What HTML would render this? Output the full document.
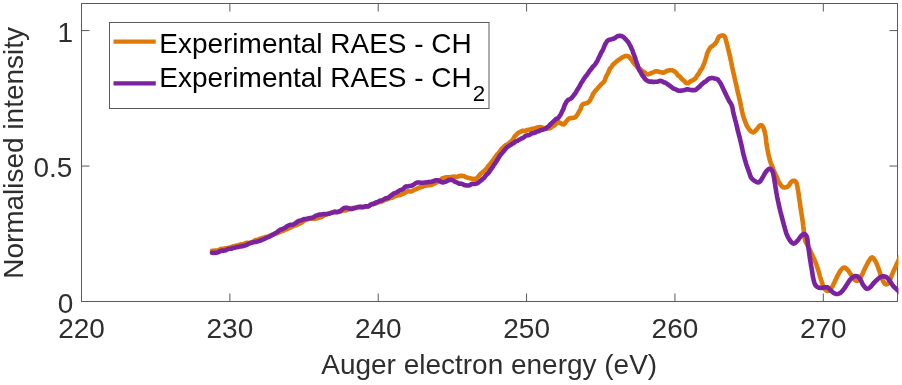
<!DOCTYPE html>
<html><head><meta charset="utf-8"><title>RAES</title>
<style>html,body{margin:0;padding:0;background:#fff}body{width:902px;height:385px;overflow:hidden}</style></head>
<body>
<svg width="902" height="385" viewBox="0 0 902 385" style="display:block;font-family:'Liberation Sans',Arial,Helvetica,sans-serif;font-size:28.3px">
<rect width="902" height="385" fill="#fff"/>
<clipPath id="c"><rect x="76.5" y="3.5" width="822.0" height="298.0"/></clipPath>
<path d="M229.86,301.5 v-8 M229.86,3.5 v8 M378.23,301.5 v-8 M378.23,3.5 v8 M526.59,301.5 v-8 M526.59,3.5 v8 M674.95,301.5 v-8 M674.95,3.5 v8 M823.32,301.5 v-8 M823.32,3.5 v8 M81.5,166.05 h8 M897.5,166.05 h-8 M81.5,30.59 h8 M897.5,30.59 h-8" stroke="#5a5a5a" stroke-width="1" fill="none"/>
<rect x="81.5" y="3.5" width="816.0" height="298.0" fill="none" stroke="#5a5a5a" stroke-width="1"/>
<g clip-path="url(#c)" fill="none" stroke-width="4.6" stroke-linejoin="round" stroke-linecap="round">
<path d="M212.0,250.9 L213.3,250.8 L214.6,250.6 L215.9,250.5 L217.2,250.7 L218.4,250.3 L219.7,249.5 L221.0,249.0 L222.3,248.8 L223.5,248.7 L224.8,248.4 L226.1,248.3 L227.4,248.2 L228.6,247.8 L229.9,247.6 L231.1,247.2 L232.4,246.6 L233.6,246.3 L234.9,246.0 L236.1,245.6 L237.4,245.4 L238.7,245.2 L239.9,244.7 L241.2,244.3 L242.4,244.2 L243.7,244.0 L245.0,243.4 L246.2,242.9 L247.5,242.9 L248.7,243.0 L250.0,242.8 L251.2,242.3 L252.5,241.9 L253.7,241.3 L254.9,240.4 L256.1,239.9 L257.4,239.7 L258.6,239.4 L259.9,238.8 L261.1,238.4 L262.4,238.1 L263.6,237.8 L264.9,237.3 L266.1,236.9 L267.3,236.7 L268.6,236.6 L269.8,236.0 L271.0,235.2 L272.2,234.8 L273.5,234.4 L274.7,233.9 L276.0,233.5 L277.2,233.1 L278.4,232.6 L279.5,232.1 L280.7,231.6 L281.8,231.2 L283.0,230.8 L284.2,230.3 L285.4,229.7 L286.7,229.2 L287.9,228.8 L289.1,228.2 L290.3,227.7 L291.5,227.1 L292.7,226.4 L293.9,225.7 L295.0,225.4 L296.2,225.2 L297.4,224.6 L298.6,224.1 L299.7,223.7 L300.9,223.0 L302.1,222.3 L303.2,221.5 L304.4,220.6 L305.6,220.0 L306.8,219.6 L308.0,219.2 L309.3,218.8 L310.5,218.7 L311.8,218.6 L313.1,218.6 L314.4,218.7 L315.7,218.6 L317.0,218.3 L318.2,218.0 L319.5,217.6 L320.7,217.3 L321.8,216.9 L323.0,216.0 L324.1,215.3 L325.3,214.9 L326.5,214.5 L327.7,214.1 L329.0,213.7 L330.2,213.2 L331.5,212.7 L332.8,212.3 L334.0,211.8 L335.3,211.6 L336.6,211.9 L337.9,212.1 L339.2,211.9 L340.4,211.6 L341.7,210.9 L343.0,210.4 L344.3,210.4 L345.5,210.5 L346.8,210.1 L348.1,209.6 L349.3,209.0 L350.6,208.5 L351.9,208.1 L353.1,208.1 L354.4,208.4 L355.7,208.1 L357.0,207.6 L358.3,207.3 L359.6,207.1 L360.9,207.1 L362.2,207.4 L363.5,207.3 L364.8,206.9 L366.0,206.7 L367.3,206.7 L368.6,206.5 L369.7,205.6 L370.9,204.5 L372.1,203.9 L373.3,203.8 L374.6,203.8 L375.8,203.6 L377.0,203.0 L378.3,202.3 L379.5,201.9 L380.7,201.9 L382.0,201.5 L383.2,200.6 L384.4,200.0 L385.6,199.8 L386.8,199.4 L388.0,198.8 L389.2,198.3 L390.4,198.0 L391.7,197.8 L392.9,197.3 L394.1,196.7 L395.4,196.2 L396.6,195.7 L397.9,195.3 L399.1,195.2 L400.4,194.9 L401.6,194.3 L402.7,193.9 L403.8,193.5 L405.0,192.8 L406.2,191.9 L407.4,191.2 L408.7,191.2 L410.0,191.5 L411.3,191.4 L412.5,190.9 L413.7,190.1 L414.9,189.5 L416.1,189.3 L417.3,188.7 L418.5,187.8 L419.7,187.3 L420.9,187.4 L422.2,187.0 L423.4,186.2 L424.7,185.7 L425.9,185.6 L427.2,185.4 L428.5,185.2 L429.8,185.3 L431.0,185.1 L432.3,184.5 L433.5,183.9 L434.6,183.6 L435.8,183.0 L436.9,182.2 L438.1,181.8 L439.2,181.2 L440.3,180.2 L441.4,179.0 L442.5,178.3 L443.6,178.1 L444.9,177.6 L446.1,177.2 L447.4,177.2 L448.7,177.4 L450.0,177.3 L451.3,177.1 L452.6,176.7 L453.9,176.6 L455.2,176.7 L456.5,176.9 L457.8,176.6 L459.1,176.0 L460.4,175.8 L461.7,175.9 L463.0,175.9 L464.2,176.2 L465.5,176.9 L466.7,177.4 L468.0,177.8 L469.2,178.1 L470.5,178.4 L471.7,178.6 L473.0,178.7 L474.3,178.9 L475.6,179.0 L476.8,178.2 L477.7,177.1 L478.6,176.3 L479.4,175.3 L480.3,174.1 L481.3,173.2 L482.2,172.5 L483.1,171.7 L484.0,171.1 L484.9,170.3 L485.8,169.3 L486.7,168.3 L487.6,167.0 L488.4,165.8 L489.3,165.0 L490.1,164.1 L490.9,163.1 L491.7,161.8 L492.4,160.9 L493.2,160.1 L494.0,158.9 L494.7,157.9 L495.5,157.1 L496.3,155.7 L497.1,154.6 L497.9,153.9 L498.7,153.0 L499.6,151.7 L500.4,150.5 L501.2,149.4 L502.1,148.4 L503.0,147.6 L503.9,146.8 L504.8,145.8 L505.8,145.1 L506.9,144.9 L507.9,144.2 L509.0,143.2 L510.0,142.4 L511.0,141.5 L511.9,140.6 L512.8,139.5 L513.5,138.4 L514.2,137.2 L514.9,136.1 L515.7,135.3 L516.6,134.4 L517.6,133.4 L518.6,132.6 L519.8,132.1 L521.0,131.5 L522.2,130.9 L523.5,130.8 L524.8,131.0 L526.0,130.6 L527.3,129.9 L528.6,129.7 L529.9,129.7 L531.1,129.2 L532.4,128.8 L533.7,128.6 L534.9,128.4 L536.1,128.0 L537.4,127.5 L538.6,127.2 L539.9,127.0 L541.2,127.2 L542.5,127.7 L543.8,128.2 L545.0,128.5 L546.3,128.7 L547.6,128.5 L548.9,128.5 L550.1,128.1 L551.3,127.4 L552.4,126.5 L553.6,125.9 L554.7,125.2 L555.6,124.3 L556.6,123.3 L557.6,122.3 L558.9,122.1 L560.1,122.9 L561.2,123.6 L562.4,124.3 L563.7,124.4 L564.8,123.5 L565.6,122.2 L566.4,121.2 L567.2,120.4 L568.1,119.4 L569.1,118.5 L570.3,118.1 L571.6,118.1 L572.9,117.9 L574.1,117.8 L575.3,117.2 L576.3,116.1 L577.1,115.0 L577.9,113.9 L578.5,112.6 L579.2,111.5 L579.8,110.4 L580.4,109.4 L580.8,108.4 L581.1,107.4 L581.5,106.2 L582.1,105.1 L583.0,104.2 L584.2,103.7 L585.5,103.4 L586.8,103.1 L588.0,102.5 L588.9,101.7 L589.7,100.9 L590.4,99.7 L591.0,98.2 L591.6,97.2 L592.2,96.2 L592.7,94.6 L593.4,93.5 L594.1,92.6 L594.8,91.4 L595.6,90.6 L596.4,89.7 L597.3,88.7 L598.1,87.8 L599.0,86.8 L599.9,85.7 L600.9,84.6 L601.9,83.7 L602.8,82.9 L603.6,82.1 L604.3,81.4 L604.9,80.1 L605.5,78.3 L606.0,76.8 L606.6,75.7 L607.1,74.8 L607.7,73.9 L608.2,72.8 L608.8,71.5 L609.3,70.1 L609.8,68.7 L610.5,67.9 L611.2,67.3 L611.9,66.3 L612.8,64.9 L613.7,63.9 L614.6,63.2 L615.6,62.4 L616.7,61.4 L617.8,60.5 L618.8,59.7 L619.9,59.1 L621.0,58.3 L622.1,57.6 L623.2,57.0 L624.3,56.4 L625.5,56.0 L626.8,55.9 L628.0,56.2 L629.0,56.8 L629.8,57.8 L630.7,58.9 L631.5,59.8 L632.3,60.8 L633.0,62.0 L633.8,63.0 L634.6,64.1 L635.5,65.0 L636.4,66.0 L637.4,67.1 L638.4,67.8 L639.4,68.6 L640.4,69.4 L641.4,70.4 L642.5,71.1 L643.4,71.6 L644.4,72.2 L645.4,73.2 L646.4,74.0 L647.7,74.4 L648.9,74.1 L650.1,73.6 L651.3,73.0 L652.4,72.6 L653.6,72.1 L654.7,71.6 L656.0,71.2 L657.2,71.2 L658.5,71.6 L659.7,72.1 L661.0,72.3 L662.3,72.6 L663.6,72.7 L664.8,72.2 L666.0,71.4 L667.3,70.8 L668.5,70.5 L669.8,70.3 L671.1,70.2 L672.3,70.3 L673.5,70.8 L674.5,71.4 L675.5,72.2 L676.5,73.2 L677.4,74.6 L678.3,75.6 L679.2,76.0 L680.1,76.8 L681.0,78.1 L681.9,79.0 L682.8,79.8 L683.7,80.5 L684.7,81.5 L685.7,82.7 L686.9,83.3 L688.2,83.2 L689.2,82.3 L690.3,81.4 L691.5,80.8 L692.7,80.3 L693.9,79.6 L694.8,78.9 L695.7,78.2 L696.4,76.9 L697.1,75.5 L697.8,74.7 L698.5,74.0 L699.2,72.8 L699.9,71.3 L700.6,70.0 L701.3,69.3 L702.0,68.5 L702.6,67.1 L703.2,65.7 L703.7,64.5 L704.2,63.3 L704.7,62.0 L705.1,60.9 L705.5,59.6 L705.9,58.2 L706.2,57.2 L706.6,55.8 L706.9,54.2 L707.3,53.2 L707.8,52.2 L708.3,51.0 L708.8,50.0 L709.5,48.8 L710.4,47.5 L711.3,46.7 L712.3,46.1 L713.3,45.3 L714.3,44.5 L715.3,43.5 L716.1,42.4 L716.7,41.3 L717.2,40.3 L717.7,39.2 L718.2,37.8 L719.1,36.6 L720.2,36.0 L721.4,35.6 L722.7,35.4 L723.9,35.7 L724.8,36.7 L725.3,37.9 L725.7,39.2 L726.0,40.5 L726.3,41.7 L726.6,42.8 L727.0,44.1 L727.3,45.3 L727.7,46.7 L728.0,48.2 L728.3,49.5 L728.6,50.6 L728.9,51.9 L729.2,53.2 L729.5,54.4 L729.8,55.7 L730.1,56.9 L730.4,58.1 L730.6,59.4 L730.9,60.7 L731.2,62.0 L731.5,63.4 L731.7,64.6 L732.0,65.8 L732.2,67.2 L732.5,68.5 L732.7,69.6 L733.0,70.9 L733.3,72.1 L733.6,73.4 L733.9,74.7 L734.2,76.0 L734.5,77.2 L734.7,78.5 L735.0,79.8 L735.3,81.0 L735.6,82.2 L735.9,83.5 L736.2,84.7 L736.5,86.0 L736.8,87.3 L737.1,88.7 L737.3,90.0 L737.6,91.2 L737.9,92.5 L738.2,93.7 L738.5,95.0 L738.8,96.2 L739.1,97.5 L739.4,98.8 L739.7,100.1 L740.0,101.3 L740.3,102.5 L740.5,103.8 L740.8,105.1 L741.0,106.4 L741.3,107.7 L741.5,109.0 L741.8,110.3 L742.1,111.5 L742.4,112.8 L742.7,114.0 L743.0,115.3 L743.4,116.5 L743.8,117.8 L744.2,119.0 L744.6,120.2 L745.1,121.4 L745.5,122.7 L746.0,123.9 L746.6,125.1 L747.1,126.2 L747.8,127.4 L748.5,128.4 L749.3,129.5 L750.1,130.5 L751.0,131.4 L752.1,132.1 L753.3,132.4 L754.5,131.8 L755.4,130.8 L756.2,129.8 L757.1,128.9 L757.9,127.9 L758.7,126.8 L759.5,125.8 L760.6,125.1 L761.8,125.5 L762.7,126.4 L763.4,127.5 L763.8,128.7 L764.2,130.0 L764.5,131.2 L764.9,132.5 L765.1,133.8 L765.4,135.0 L765.6,136.3 L765.8,137.6 L765.9,138.9 L766.1,140.2 L766.2,141.5 L766.4,142.8 L766.6,144.1 L766.8,145.3 L767.0,146.6 L767.2,147.9 L767.4,149.2 L767.7,150.5 L767.9,151.7 L768.1,153.0 L768.4,154.3 L768.7,155.6 L769.0,156.8 L769.3,158.1 L769.6,159.3 L770.0,160.6 L770.4,161.8 L770.8,163.1 L771.3,164.3 L771.7,165.5 L772.2,166.7 L772.7,167.9 L773.2,169.1 L773.7,170.3 L774.2,171.5 L774.8,172.7 L775.3,173.9 L775.8,175.0 L776.4,176.2 L776.9,177.4 L777.4,178.6 L777.9,179.8 L778.4,181.0 L779.0,182.2 L779.6,183.3 L780.3,184.4 L781.1,185.5 L782.0,186.4 L783.0,187.2 L784.3,187.5 L785.6,187.4 L786.8,187.0 L787.9,186.4 L788.9,185.5 L789.6,184.4 L790.2,183.3 L791.0,182.2 L791.9,181.4 L793.1,180.8 L794.4,180.8 L795.5,181.3 L796.2,182.4 L796.7,183.6 L797.0,184.9 L797.3,186.2 L797.5,187.4 L797.7,188.7 L798.0,190.0 L798.2,191.3 L798.4,192.6 L798.6,193.9 L798.8,195.1 L798.9,196.4 L799.1,197.7 L799.3,199.0 L799.5,200.3 L799.7,201.6 L799.9,202.9 L800.1,204.1 L800.2,205.4 L800.4,206.7 L800.6,208.0 L800.8,209.3 L801.0,210.6 L801.2,211.9 L801.4,213.1 L801.6,214.4 L801.8,215.7 L802.0,217.0 L802.2,218.3 L802.4,219.6 L802.6,220.9 L802.8,222.1 L802.9,223.4 L803.1,224.7 L803.2,226.0 L803.4,227.3 L803.5,228.6 L803.7,229.9 L803.8,231.2 L804.0,232.5 L804.1,233.8 L804.2,235.1 L804.3,236.4 L804.5,237.6 L804.8,238.9 L805.1,240.2 L805.5,241.4 L806.0,242.6 L806.7,243.7 L807.3,244.8 L808.0,246.0 L808.6,247.1 L809.1,248.3 L809.7,249.5 L810.2,250.7 L810.8,251.8 L811.3,253.0 L811.9,254.2 L812.4,255.4 L813.0,256.5 L813.5,257.7 L814.1,258.9 L814.6,260.1 L815.1,261.3 L815.6,262.5 L816.0,263.7 L816.5,264.9 L816.9,266.2 L817.3,267.4 L817.7,268.6 L818.1,269.9 L818.5,271.1 L818.9,272.4 L819.2,273.6 L819.6,274.9 L819.9,276.1 L820.3,277.4 L820.7,278.6 L821.1,279.9 L821.5,281.1 L821.9,282.3 L822.3,283.6 L822.7,284.8 L823.2,286.0 L823.8,287.2 L824.4,288.3 L825.2,289.4 L826.0,290.3 L827.1,290.9 L828.4,290.8 L829.5,290.1 L830.4,289.2 L831.3,288.2 L832.0,287.1 L832.7,286.0 L833.2,284.8 L833.8,283.7 L834.4,282.5 L834.9,281.3 L835.5,280.1 L836.0,279.0 L836.6,277.8 L837.1,276.6 L837.7,275.4 L838.3,274.3 L838.9,273.2 L839.6,272.0 L840.3,270.9 L841.1,269.9 L841.9,268.9 L842.9,268.0 L844.0,267.5 L845.3,267.8 L846.3,268.6 L847.2,269.5 L848.1,270.4 L848.9,271.5 L849.6,272.6 L850.3,273.7 L851.0,274.8 L851.8,275.8 L852.5,276.9 L853.2,278.0 L854.0,279.0 L854.9,280.0 L855.9,280.8 L857.2,280.9 L858.3,280.2 L859.3,279.4 L860.1,278.3 L860.7,277.2 L861.4,276.1 L861.9,274.9 L862.5,273.8 L863.1,272.6 L863.6,271.4 L864.1,270.2 L864.7,269.0 L865.2,267.8 L865.8,266.7 L866.4,265.5 L867.0,264.4 L867.6,263.2 L868.2,262.1 L868.9,261.0 L869.6,259.9 L870.3,258.8 L871.1,257.8 L872.2,257.3 L873.3,258.1 L874.1,259.2 L874.8,260.2 L875.5,261.3 L876.1,262.5 L876.6,263.7 L877.2,264.9 L877.6,266.1 L878.1,267.3 L878.5,268.5 L878.9,269.7 L879.4,271.0 L879.8,272.2 L880.2,273.4 L880.6,274.7 L881.0,275.9 L881.5,277.1 L881.9,278.3 L882.4,279.6 L882.9,280.7 L883.5,281.9 L884.2,283.0 L885.0,284.0 L886.2,284.5 L887.4,284.0 L888.3,283.1 L889.0,282.0 L889.5,280.8 L890.0,279.6 L890.5,278.4 L891.0,277.2 L891.5,276.0 L892.0,274.8 L892.5,273.6 L893.0,272.4 L893.5,271.2 L894.0,270.0 L894.6,268.8 L895.1,267.6 L895.7,266.5 L896.2,265.3 L896.8,264.1 L897.3,262.9 L897.9,261.8 L898.4,260.6 L898.9,259.4 L899.5,258.2 L900.0,257.0 L900.0,257.0" stroke="#DF7A06"/>
<path d="M212.0,252.8 L213.3,252.9 L214.6,252.8 L215.9,252.8 L217.1,252.6 L218.4,252.1 L219.7,251.4 L220.9,250.9 L222.2,250.6 L223.4,250.6 L224.7,250.5 L225.9,250.2 L227.2,249.5 L228.5,248.9 L229.7,248.8 L231.0,248.8 L232.2,248.3 L233.5,248.0 L234.8,247.8 L236.0,247.2 L237.3,247.1 L238.6,247.0 L239.8,246.5 L241.1,246.4 L242.4,246.3 L243.7,245.7 L244.9,245.4 L246.1,245.2 L247.3,244.7 L248.5,243.9 L249.7,243.3 L251.0,242.9 L252.2,242.6 L253.4,242.2 L254.7,242.0 L256.0,241.9 L257.2,241.6 L258.5,241.1 L259.8,240.7 L261.0,240.3 L262.2,239.8 L263.4,239.4 L264.6,238.9 L265.7,238.2 L266.9,237.7 L268.1,237.2 L269.2,236.7 L270.4,236.1 L271.5,235.4 L272.7,234.8 L273.8,234.1 L274.9,233.4 L276.0,232.8 L277.1,232.1 L278.3,231.2 L279.4,230.2 L280.5,229.6 L281.6,229.4 L282.7,228.8 L283.8,228.4 L285.0,227.9 L286.1,227.0 L287.3,226.0 L288.5,225.5 L289.7,225.1 L290.9,224.8 L292.1,224.7 L293.3,224.4 L294.5,223.7 L295.7,223.0 L296.8,222.3 L298.0,221.3 L299.1,220.7 L300.4,220.5 L301.6,220.2 L302.8,219.7 L304.1,219.1 L305.4,218.9 L306.7,218.7 L307.9,218.4 L309.2,218.2 L310.5,218.0 L311.7,217.8 L312.9,217.5 L314.0,216.9 L315.2,216.1 L316.3,215.5 L317.5,215.2 L318.7,214.8 L320.0,214.5 L321.3,214.5 L322.6,214.3 L323.9,214.1 L325.2,214.2 L326.5,213.9 L327.7,213.7 L329.0,213.7 L330.3,213.3 L331.5,212.7 L332.8,212.4 L334.1,212.0 L335.4,212.1 L336.7,212.3 L337.9,211.9 L339.1,211.4 L340.2,210.9 L341.3,210.3 L342.4,209.3 L343.6,208.3 L344.8,207.9 L346.1,207.9 L347.4,207.9 L348.7,208.3 L349.9,208.8 L351.2,209.1 L352.5,208.9 L353.8,208.1 L355.1,207.7 L356.3,207.5 L357.6,207.1 L358.9,206.9 L360.2,206.9 L361.5,206.8 L362.8,207.0 L364.1,206.8 L365.3,206.3 L366.6,206.2 L367.9,206.4 L369.1,205.9 L370.3,204.9 L371.5,204.3 L372.7,204.3 L373.9,203.8 L375.1,202.8 L376.2,202.3 L377.4,202.1 L378.6,201.5 L379.8,200.8 L381.0,200.5 L382.3,200.2 L383.5,199.6 L384.7,198.8 L386.0,198.2 L387.2,198.1 L388.4,197.7 L389.5,196.7 L390.6,195.8 L391.6,195.1 L392.6,194.3 L393.7,193.5 L394.8,192.9 L395.9,192.6 L397.1,192.2 L398.2,191.4 L399.4,190.5 L400.5,190.0 L401.6,189.7 L402.7,189.3 L403.7,188.5 L404.8,187.2 L406.0,186.4 L407.2,186.5 L408.4,186.3 L409.7,185.9 L411.0,185.7 L412.2,185.4 L413.4,184.8 L414.6,184.1 L415.7,183.1 L417.0,182.6 L418.3,182.4 L419.6,182.6 L420.9,182.8 L422.2,182.8 L423.5,182.7 L424.8,182.5 L426.0,182.4 L427.3,182.2 L428.6,182.0 L429.9,181.9 L431.2,181.7 L432.4,181.4 L433.7,181.1 L434.9,180.5 L436.2,180.2 L437.5,180.3 L438.8,180.5 L440.0,181.1 L441.2,182.0 L442.4,182.4 L443.7,182.2 L445.0,181.9 L446.2,181.5 L447.3,180.9 L448.4,180.3 L449.6,180.0 L450.9,179.9 L452.1,180.0 L453.3,180.5 L454.4,181.4 L455.5,181.9 L456.6,182.3 L457.9,183.0 L459.1,183.6 L460.4,183.6 L461.7,183.7 L462.9,184.3 L464.1,185.0 L465.3,185.3 L466.5,185.4 L467.8,185.6 L469.1,185.4 L470.4,184.8 L471.6,184.1 L472.8,183.8 L474.1,183.9 L475.4,183.9 L476.7,183.5 L477.9,182.9 L479.1,182.0 L480.1,181.1 L481.1,180.4 L482.1,179.6 L483.0,178.7 L483.9,178.0 L484.8,177.0 L485.6,175.8 L486.5,174.7 L487.3,174.1 L488.1,173.3 L489.0,172.1 L489.8,170.9 L490.5,169.9 L491.3,168.8 L492.1,167.9 L492.8,166.8 L493.5,165.5 L494.2,164.5 L495.0,163.5 L495.7,162.4 L496.3,161.4 L497.0,160.4 L497.7,159.4 L498.4,158.2 L499.2,156.8 L499.9,155.7 L500.7,154.8 L501.5,153.9 L502.3,152.9 L503.1,151.9 L504.0,150.9 L504.9,149.7 L505.7,148.7 L506.7,147.7 L507.6,146.7 L508.6,146.2 L509.6,145.6 L510.7,145.0 L511.8,144.1 L512.9,143.5 L514.1,142.9 L515.2,141.9 L516.4,141.1 L517.5,140.8 L518.6,140.1 L519.7,139.5 L520.8,138.9 L521.9,138.3 L523.1,137.8 L524.2,137.1 L525.4,136.1 L526.6,135.4 L527.8,135.2 L529.0,135.1 L530.2,134.4 L531.4,133.6 L532.6,133.3 L533.8,133.1 L535.0,132.5 L536.3,132.0 L537.5,131.5 L538.7,131.3 L539.9,130.6 L541.1,130.0 L542.3,129.8 L543.6,129.5 L544.8,129.0 L546.0,128.3 L547.1,127.3 L548.2,126.5 L549.2,125.6 L550.1,124.7 L550.9,123.7 L551.8,123.0 L552.7,122.3 L553.6,121.3 L554.6,120.3 L555.6,119.3 L556.6,118.7 L557.6,118.3 L558.6,117.6 L559.5,116.2 L560.3,115.1 L560.9,114.2 L561.5,112.8 L562.0,111.6 L562.5,110.7 L563.0,109.8 L563.5,108.6 L564.0,107.1 L564.4,105.8 L564.9,104.8 L565.4,103.8 L566.0,102.7 L566.8,101.3 L567.9,100.1 L569.0,99.5 L570.1,99.0 L571.1,98.4 L572.0,97.5 L572.9,96.4 L573.7,95.3 L574.5,94.4 L575.3,93.3 L576.0,92.1 L576.7,90.8 L577.4,89.6 L578.0,88.7 L578.6,87.9 L579.3,86.7 L579.9,85.7 L580.5,84.3 L581.2,83.0 L581.9,82.0 L582.6,80.9 L583.3,79.8 L584.0,78.7 L584.8,77.6 L585.5,76.5 L586.2,75.6 L587.0,74.8 L587.7,73.7 L588.5,72.6 L589.2,71.5 L590.0,70.3 L590.8,69.5 L591.6,68.5 L592.4,67.2 L593.4,66.2 L594.3,65.4 L595.1,64.4 L595.9,63.2 L596.5,62.2 L597.1,61.4 L597.7,60.1 L598.3,58.7 L598.8,57.6 L599.4,56.5 L600.0,55.4 L600.5,54.1 L601.1,52.8 L601.7,51.9 L602.3,51.0 L602.8,49.9 L603.4,48.6 L604.0,47.0 L604.6,45.6 L605.1,44.5 L605.7,43.5 L606.3,42.4 L607.0,41.3 L608.0,40.4 L609.2,39.8 L610.5,39.5 L611.7,39.2 L613.0,38.8 L614.1,38.5 L615.2,37.9 L616.3,36.9 L617.4,36.3 L618.6,36.0 L619.9,35.7 L621.2,35.9 L622.4,36.5 L623.5,37.1 L624.5,38.0 L625.4,39.0 L626.3,39.9 L627.2,41.0 L628.0,41.9 L628.7,42.8 L629.3,44.0 L629.9,45.1 L630.5,46.2 L631.0,47.4 L631.6,48.8 L632.1,49.8 L632.6,50.8 L633.0,52.2 L633.5,53.7 L634.0,54.9 L634.4,55.9 L634.8,56.9 L635.3,58.3 L635.7,59.7 L636.1,60.8 L636.4,62.3 L636.8,63.5 L637.3,64.3 L637.6,65.5 L638.1,67.0 L638.6,68.5 L639.1,69.9 L639.7,70.9 L640.3,71.5 L640.9,72.5 L641.5,73.8 L642.2,75.1 L642.9,76.1 L643.7,77.0 L644.5,78.3 L645.5,79.5 L646.6,80.3 L647.7,80.9 L648.9,81.5 L650.1,81.6 L651.4,81.6 L652.7,81.9 L654.0,81.9 L655.3,81.7 L656.6,81.8 L657.8,81.7 L659.1,81.2 L660.3,80.8 L661.6,81.0 L662.8,81.8 L664.0,82.4 L665.0,82.6 L666.1,83.2 L667.2,84.0 L668.3,84.7 L669.4,85.5 L670.5,86.2 L671.6,87.1 L672.7,88.1 L673.8,88.7 L674.9,88.9 L676.0,89.5 L677.2,90.2 L678.5,90.6 L679.7,90.7 L681.0,90.6 L682.3,90.5 L683.6,90.3 L684.7,90.1 L685.9,89.6 L687.2,89.2 L688.5,89.4 L689.7,89.8 L691.0,90.0 L692.3,90.1 L693.5,90.1 L694.8,90.1 L696.0,89.6 L697.1,88.7 L698.2,87.7 L699.3,86.9 L700.2,85.9 L701.2,84.9 L702.1,84.0 L703.1,83.1 L704.0,82.4 L705.0,81.9 L705.9,81.2 L707.0,80.2 L708.1,79.2 L709.3,78.5 L710.6,78.2 L711.9,77.9 L713.2,78.1 L714.5,78.5 L715.7,78.7 L716.9,78.9 L718.0,79.7 L718.8,80.9 L719.6,81.9 L720.3,82.8 L720.9,83.9 L721.5,85.1 L722.1,86.4 L722.7,87.6 L723.2,88.8 L723.8,89.9 L724.3,91.0 L724.9,92.3 L725.4,93.5 L726.0,94.5 L726.5,95.7 L727.1,96.9 L727.7,98.1 L728.3,99.3 L728.9,100.4 L729.5,101.6 L730.2,102.6 L730.9,103.7 L731.5,104.8 L732.0,106.0 L732.3,107.3 L732.6,108.6 L732.8,109.8 L733.0,111.0 L733.3,112.3 L733.6,113.7 L733.9,115.1 L734.2,116.3 L734.6,117.6 L734.9,118.8 L735.2,120.1 L735.6,121.2 L735.9,122.4 L736.2,123.7 L736.5,125.0 L736.8,126.2 L737.1,127.6 L737.4,128.9 L737.7,130.1 L738.0,131.4 L738.4,132.7 L738.7,133.9 L739.0,135.1 L739.3,136.4 L739.7,137.6 L740.0,138.9 L740.3,140.1 L740.6,141.4 L740.9,142.6 L741.2,143.9 L741.5,145.2 L741.8,146.5 L742.0,147.8 L742.3,149.1 L742.6,150.3 L742.8,151.6 L743.1,152.8 L743.4,154.1 L743.7,155.4 L744.1,156.6 L744.4,157.9 L744.8,159.1 L745.1,160.4 L745.5,161.6 L745.9,162.9 L746.2,164.1 L746.6,165.4 L747.1,166.6 L747.5,167.8 L747.9,169.0 L748.4,170.3 L748.8,171.5 L749.3,172.7 L749.7,173.9 L750.1,175.2 L750.5,176.4 L751.1,177.6 L751.9,178.6 L752.8,179.5 L753.8,180.3 L754.9,181.1 L756.0,181.7 L757.2,182.3 L758.5,182.4 L759.6,181.9 L760.5,180.9 L761.2,179.8 L761.9,178.7 L762.6,177.6 L763.2,176.5 L763.8,175.4 L764.4,174.2 L765.1,173.1 L765.8,172.0 L766.6,171.0 L767.5,170.0 L768.5,169.2 L769.7,168.7 L770.9,169.1 L771.7,170.1 L772.4,171.2 L772.9,172.4 L773.2,173.6 L773.5,174.9 L773.7,176.2 L774.0,177.5 L774.2,178.7 L774.4,180.0 L774.6,181.3 L774.8,182.6 L775.0,183.9 L775.2,185.2 L775.4,186.5 L775.6,187.7 L775.8,189.0 L776.0,190.3 L776.2,191.6 L776.4,192.9 L776.7,194.2 L776.9,195.4 L777.1,196.7 L777.4,198.0 L777.7,199.3 L777.9,200.5 L778.2,201.8 L778.5,203.1 L778.7,204.3 L779.0,205.6 L779.3,206.9 L779.6,208.1 L779.9,209.4 L780.2,210.7 L780.5,211.9 L780.9,213.2 L781.2,214.5 L781.5,215.7 L781.8,217.0 L782.1,218.2 L782.5,219.5 L782.8,220.7 L783.1,222.0 L783.5,223.3 L783.8,224.5 L784.1,225.8 L784.5,227.0 L784.8,228.3 L785.2,229.5 L785.6,230.8 L785.9,232.0 L786.3,233.3 L786.8,234.5 L787.3,235.7 L787.8,236.9 L788.4,238.0 L789.1,239.1 L789.8,240.2 L790.6,241.2 L791.4,242.2 L792.4,243.1 L793.6,243.6 L794.8,243.3 L795.8,242.5 L796.7,241.5 L797.6,240.6 L798.4,239.6 L799.2,238.5 L799.9,237.5 L800.7,236.4 L801.6,235.5 L802.6,234.6 L803.7,234.0 L805.0,234.3 L805.9,235.2 L806.6,236.3 L807.0,237.5 L807.3,238.8 L807.5,240.0 L807.6,241.3 L807.7,242.6 L807.9,243.9 L808.1,245.2 L808.2,246.5 L808.4,247.8 L808.6,249.1 L808.8,250.4 L809.0,251.7 L809.1,252.9 L809.3,254.2 L809.5,255.5 L809.7,256.8 L809.9,258.1 L810.1,259.4 L810.3,260.7 L810.5,261.9 L810.7,263.2 L810.9,264.5 L811.1,265.8 L811.3,267.1 L811.6,268.4 L811.8,269.6 L812.0,270.9 L812.2,272.2 L812.4,273.5 L812.6,274.8 L812.8,276.1 L813.0,277.3 L813.3,278.6 L813.6,279.9 L813.9,281.1 L814.2,282.4 L814.7,283.6 L815.2,284.8 L816.0,285.8 L816.9,286.7 L818.1,287.3 L819.3,287.8 L820.6,288.0 L821.8,287.9 L823.1,287.6 L824.4,287.5 L825.7,287.2 L827.0,287.2 L828.1,287.7 L829.1,288.6 L829.9,289.6 L830.9,290.5 L831.8,291.4 L832.8,292.3 L833.8,293.0 L835.0,293.6 L836.2,294.0 L837.5,294.0 L838.8,293.6 L840.0,293.1 L841.0,292.3 L842.0,291.4 L842.8,290.5 L843.6,289.4 L844.4,288.4 L845.1,287.3 L845.9,286.2 L846.5,285.1 L847.2,284.0 L847.9,282.9 L848.6,281.8 L849.3,280.7 L850.1,279.7 L851.0,278.8 L852.0,277.9 L853.0,277.1 L854.1,276.4 L855.3,276.0 L856.6,276.2 L857.8,276.7 L858.8,277.6 L859.7,278.5 L860.4,279.6 L861.0,280.7 L861.6,281.9 L862.1,283.1 L862.7,284.2 L863.4,285.3 L864.2,286.4 L865.0,287.4 L865.9,288.3 L867.1,288.8 L868.3,288.6 L869.4,287.9 L870.4,287.0 L871.3,286.1 L872.1,285.0 L872.9,284.0 L873.7,283.0 L874.6,282.1 L875.5,281.2 L876.5,280.3 L877.4,279.4 L878.4,278.5 L879.4,277.7 L880.5,277.0 L881.7,276.5 L883.0,276.3 L884.3,276.4 L885.5,276.8 L886.7,277.4 L887.6,278.3 L888.5,279.2 L889.3,280.2 L890.1,281.3 L890.8,282.4 L891.4,283.5 L892.1,284.6 L892.9,285.6 L893.8,286.6 L894.7,287.5 L895.7,288.4 L896.6,289.3 L897.6,290.2 L898.5,291.1 L899.5,292.0 L900.0,292.5" stroke="#7B22A0"/>
</g>
<g fill="#2e2e2e" text-anchor="middle" font-size="27.4px">
<text transform="translate(81.50,338.4) scale(1.022,1)">220</text>
<text transform="translate(229.86,338.4) scale(1.022,1)">230</text>
<text transform="translate(378.23,338.4) scale(1.022,1)">240</text>
<text transform="translate(526.59,338.4) scale(1.022,1)">250</text>
<text transform="translate(674.95,338.4) scale(1.022,1)">260</text>
<text transform="translate(823.32,338.4) scale(1.022,1)">270</text>
</g>
<g fill="#2e2e2e" text-anchor="end" font-size="27.4px">
<text transform="translate(73.3,312.80) scale(1.022,1)">0</text>
<text transform="translate(72.3,177.35) scale(1.022,1)">0.5</text>
<text transform="translate(73.1,41.89) scale(1.022,1)">1</text>
</g>
<text transform="translate(489.2,374.3) scale(0.989,1)" fill="#2e2e2e" text-anchor="middle">Auger electron energy (eV)</text>
<text transform="translate(22.9,152.9) rotate(-90) scale(0.989,1)" fill="#2e2e2e" text-anchor="middle">Normalised intensity</text>
<rect x="109.5" y="22.5" width="379.5" height="86" fill="#fff" stroke="#5a5a5a" stroke-width="1"/>
<path d="M113.5,41.7 H155.8" stroke="#DF7A06" stroke-width="4.2"/>
<path d="M113.5,83.4 H155.8" stroke="#7B22A0" stroke-width="4.2"/>
<text transform="translate(159.3,52.8) scale(0.989,1)" fill="#000">Experimental RAES - CH</text>
<text transform="translate(159.3,86.6) scale(0.989,1)" fill="#000">Experimental RAES - CH<tspan dx="1" dy="14.8" font-size="22.6px">2</tspan></text>
</svg>
</body></html>
